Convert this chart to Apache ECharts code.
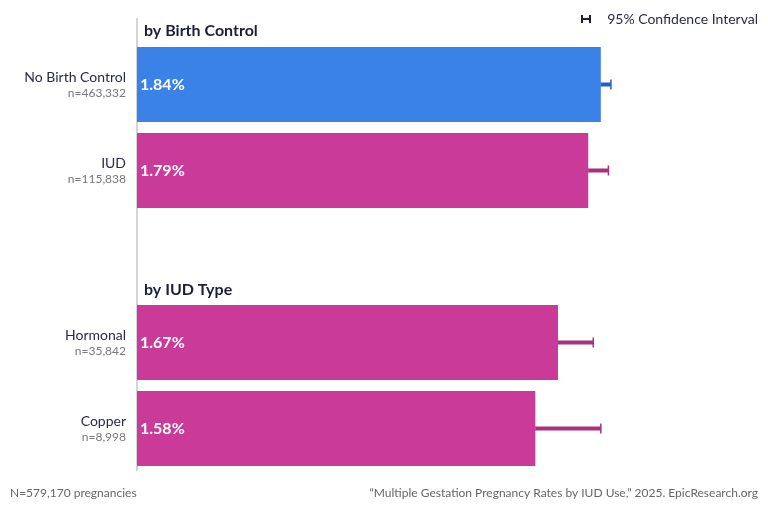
<!DOCTYPE html><html><head><meta charset="utf-8">
<script src="https://cdn.jsdelivr.net/npm/echarts@6/dist/echarts.min.js"></script>
<style>html,body{margin:0;background:#fff}#c{width:768px;height:512px}</style></head><body><div id="c"></div>
<script>
const categories = ['No Birth Control','IUD','','Hormonal','Copper'];
const counts = ['n=463,332','n=115,838','','n=35,842','n=8,998'];
const rates = [1.84,1.79,null,1.67,1.58];
const ciLow = [1.80,1.71,null,1.54,1.31];
const ciHigh = [1.88,1.87,null,1.81,1.84];
const colors = ['#3b82e8','#c93a99',null,'#c93a99','#c93a99'];
const ciColors = ['#2a5fb8','#a8307f',null,'#a8307f','#a8307f'];
const F = 'Lato, "Noto Sans", sans-serif';
const chart = echarts.init(document.getElementById('c'));
chart.setOption({
  animation:false,
  textStyle:{fontFamily:F},
  grid:{left:137,right:26,top:41.5,bottom:40.5,containLabel:false},
  xAxis:{type:'value',min:0,max:2.4,show:false},
  yAxis:{type:'category',inverse:true,data:categories,
    axisLine:{show:false},axisTick:{show:false},
    axisLabel:{margin:11,align:'right',formatter:(v,i)=> v? '{a|'+v+'}\n{b|'+counts[i]+'}':'',
      rich:{a:{fontSize:14,color:'#2a2a4a',fontFamily:F,lineHeight:17,align:'right'},b:{fontSize:12,color:'#777',fontFamily:F,lineHeight:15,align:'right'}}}},
  series:[
    {type:'bar',barWidth:75,data:rates.map((v,i)=>v==null?null:{value:v,itemStyle:{color:colors[i]}}),
     label:{show:true,position:'insideLeft',offset:[-2,0],formatter:p=>p.value.toFixed(2)+'%',color:'#fff',fontSize:16,fontWeight:'bold',fontFamily:F}},
    {type:'custom',data:rates.map((v,i)=>v==null?null:[i,ciLow[i],ciHigh[i],v]).filter(d=>d),
     renderItem:(params,api)=>{
       const i=api.value(0),lo=api.coord([api.value(1),i]),hi=api.coord([api.value(2),i]),r=api.coord([api.value(3),i]);
       const y=lo[1],c=ciColors[i];
       const inEnd=Math.min(r[0],hi[0]);
       return {type:'group',children:[
         {type:'line',shape:{x1:lo[0],y1:y,x2:hi[0],y2:y},style:{stroke:c,lineWidth:4}},
         {type:'line',shape:{x1:lo[0]+1,y1:y,x2:inEnd,y2:y},style:{stroke:'#fff',lineWidth:1.5}},
         {type:'line',shape:{x1:lo[0],y1:y-5,x2:lo[0],y2:y+5},style:{stroke:c,lineWidth:1.5}},
         {type:'line',shape:{x1:hi[0],y1:y-5,x2:hi[0],y2:y+5},style:{stroke:c,lineWidth:1.5}}
       ]};
     }}
  ],
  graphic:[
    {type:'line',shape:{x1:137,y1:18,x2:137,y2:471},style:{stroke:'#aaa',lineWidth:1}},
    {type:'text',left:144,top:23,style:{text:'by Birth Control',fontSize:16,fontWeight:'bold',fill:'#1e1e3c',fontFamily:F}},
    {type:'text',left:144,top:282,style:{text:'by IUD Type',fontSize:16,fontWeight:'bold',fill:'#1e1e3c',fontFamily:F}},
    {type:'line',shape:{x1:582,y1:15,x2:582,y2:23},style:{stroke:'#1e1e3c',lineWidth:2}},
    {type:'line',shape:{x1:582,y1:19,x2:590,y2:19},style:{stroke:'#1e1e3c',lineWidth:2}},
    {type:'line',shape:{x1:590,y1:15,x2:590,y2:23},style:{stroke:'#1e1e3c',lineWidth:2}},
    {type:'text',right:10,top:12,style:{text:'95% Confidence Interval',fontSize:14,fill:'#2a2a4a',fontFamily:F}},
    {type:'text',left:10,top:487,style:{text:'N=579,170 pregnancies',fontSize:12,fill:'#666',fontFamily:F}},
    {type:'text',right:10,top:487,style:{text:'“Multiple Gestation Pregnancy Rates by IUD Use,” 2025. EpicResearch.org',fontSize:12,fill:'#666',fontFamily:F}}
  ]
});
</script></body></html>
